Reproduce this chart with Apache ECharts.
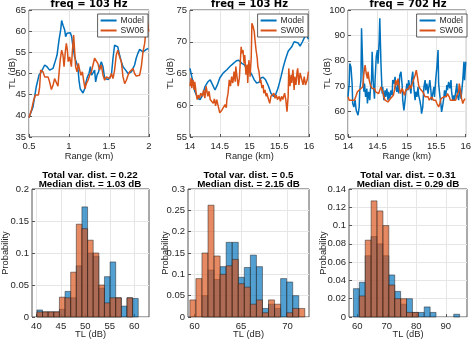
<!DOCTYPE html>
<html><head><meta charset="utf-8">
<script src="https://cdn.jsdelivr.net/npm/echarts@6/dist/echarts.min.js"></script>
<style>html,body{margin:0;padding:0;background:#fff}#c{width:474px;height:340px}</style>
</head><body><div id="c"></div>
<script>
// ---------- DATA ----------
const seriesNames = ['Model', 'SW06'];
const topTitles = ['freq = 103 Hz', 'freq = 103 Hz', 'freq = 702 Hz'];
const bottomTitles1 = ['Total var. dist. = 0.22', 'Total var. dist. = 0.5', 'Total var. dist. = 0.31'];
const bottomTitles2 = ['Median dist. = 1.03 dB', 'Median dist. = 2.15 dB', 'Median dist. = 0.29 dB'];

// Panel 1 (103 Hz, 0.5-2 km)
const p1ModelX = [0.5,0.55,0.59,0.625,0.654,0.675,0.696,0.725,0.758,0.8,0.82,0.85,0.875,0.896,0.908,0.925,0.946,0.958,0.975,0.996,1.017,1.033,1.05,1.07,1.09,1.11,1.125,1.14,1.158,1.175,1.196,1.208,1.23,1.25,1.267,1.283,1.3,1.32,1.333,1.35,1.37,1.383,1.404,1.425,1.446,1.467,1.49,1.51,1.53,1.55,1.57,1.59,1.61,1.633,1.654,1.675,1.708,1.738,1.758,1.78,1.8,1.82,1.84,1.86,1.883,1.904,1.925,1.946,1.967,1.99];
const p1ModelY = [39.6,42.1,46.8,49.6,50.4,50,52,51.6,50.8,51.2,52.4,54.3,57.9,60.3,62.5,61.4,60.3,58.7,59.5,59.1,59.6,58.7,56.3,53.9,52.8,51.6,48.4,46.4,46.2,45.4,46.4,47.6,49.2,50,51.6,49.6,49.2,50.8,48,49.6,50.4,51.6,52.8,51.6,48.8,48.4,48.6,48.8,49.6,53.6,56.7,57.1,56.3,54.3,52.8,51.6,50.8,50,49.6,50.4,51.2,52,53.6,54.7,55.7,55.5,55.1,55.5,55.7,55.9];
const p1SwX = [0.5,0.53,0.558,0.58,0.6,0.617,0.633,0.646,0.658,0.675,0.696,0.717,0.738,0.758,0.78,0.8,0.82,0.842,0.862,0.875,0.89,0.908,0.925,0.938,0.954,0.967,0.98,0.99,1.008,1.03,1.04,1.058,1.07,1.083,1.1,1.117,1.133,1.15,1.167,1.183,1.2,1.217,1.238,1.258,1.28,1.3,1.32,1.342,1.36,1.383,1.404,1.425,1.446,1.467,1.49,1.51,1.53,1.55,1.57,1.59,1.61,1.633,1.654,1.675,1.696,1.717,1.738,1.758,1.78,1.8,1.82,1.84,1.86,1.883,1.904,1.925,1.946,1.967,1.98,1.996];
const p1SwY = [39.6,41.3,43.7,44.9,45.3,44.9,46.8,50.8,51.2,50.4,49.2,48.8,49.2,48,46.2,47.2,48.8,48.4,47,50,53.2,55.5,54.3,51.6,55.1,57.1,55.5,52.8,53.9,51.6,54.7,59.1,55.5,51.6,50.4,52.4,50.8,49.6,50.4,48.4,46.4,47.6,48.4,49.6,50.4,52,53.6,54,52.4,50.8,52,49.6,48.4,49.2,49.6,48.8,50,48.8,50.8,54.3,55.5,53.9,52.8,49.2,47.6,48.4,49.6,50.4,50.8,51.2,50,49.4,49.2,49.6,51.6,55.1,57.1,61.1,62.2,59.9];

// Panel 2 (103 Hz, 14-16 km)
const p2ModelX = [14,14.03,14.06,14.08,14.13,14.17,14.21,14.25,14.3,14.34,14.38,14.42,14.46,14.5,14.56,14.62,14.67,14.73,14.78,14.82,14.87,14.91,14.95,14.99,15.04,15.08,15.12,15.16,15.19,15.23,15.27,15.32,15.36,15.4,15.44,15.48,15.53,15.57,15.61,15.65,15.71,15.75,15.78,15.82,15.85,15.89,15.93,15.96,15.99];
const p2ModelY = [65.8,64.5,63.2,62.2,61.1,60.9,61.6,62.9,63.7,64,63.2,62.4,63.2,64.3,65.1,65.6,66.1,66.6,67,67.1,66.6,66.4,65.8,65.6,64.8,64,63.5,63.6,64.3,64.4,64,63,61.9,61.4,61.7,62.7,64.5,66.1,67.4,68.5,69.2,70,70.3,69.8,69.3,70,70.8,71.2,70.4];
const p2SwX = [14,14.02,14.03,14.05,14.07,14.08,14.1,14.12,14.14,14.16,14.18,14.21,14.23,14.25,14.27,14.3,14.32,14.34,14.36,14.39,14.41,14.43,14.45,14.48,14.5,14.52,14.54,14.57,14.59,14.61,14.62,14.64,14.66,14.68,14.7,14.72,14.74,14.76,14.77,14.79,14.81,14.83,14.86,14.87,14.89,14.91,14.92,14.94,14.96,14.97,14.99,15.01,15.03,15.04,15.06,15.08,15.09,15.11,15.13,15.14,15.16,15.18,15.19,15.21,15.23,15.24,15.26,15.28,15.29,15.32,15.34,15.36,15.38,15.41,15.43,15.45,15.47,15.5,15.52,15.54,15.56,15.59,15.61,15.63,15.65,15.66,15.68,15.7,15.71,15.73,15.75,15.76,15.78,15.8,15.81,15.83,15.85,15.88,15.9,15.92,15.94,15.97,15.99];
const p2SwY = [63,64.3,62.7,64,62.4,63.7,62.2,60.9,61.6,61.1,61.9,61.4,62.4,61.1,63,61.4,62.2,60.9,61.1,60.3,61,59.9,60.9,59.6,58.8,58.5,59.3,59,60.1,59.6,60.9,61.9,64,63,64.5,63.5,65.3,63.7,66.1,64.5,63,64.3,69.2,68.2,68.7,66.6,67.9,64.8,66.4,63.5,67.1,64.5,67.7,72.9,72.4,71.6,70.5,68.7,67.4,66.1,65.3,63.5,64,62.7,63.2,61.9,62.4,61.4,61.9,60.9,60.3,61.4,61.1,61.9,61.1,61.6,60.9,61.4,60.6,61.4,60.9,61.9,60.9,59,61.4,65.8,63,64.8,63.5,65.6,62.4,64.5,63.2,65.3,65.8,63.2,65.1,64,63.2,64.5,63.2,64,65.3];

// Panel 3 (702 Hz, 14-16 km)
const p3ModelX = [14,14.02,14.03,14.05,14.07,14.08,14.1,14.12,14.14,14.15,14.17,14.19,14.2,14.22,14.23,14.25,14.27,14.28,14.3,14.32,14.33,14.35,14.37,14.38,14.4,14.41,14.43,14.45,14.46,14.48,14.5,14.51,14.53,14.54,14.56,14.58,14.59,14.61,14.63,14.64,14.66,14.68,14.69,14.71,14.73,14.75,14.76,14.78,14.8,14.81,14.83,14.85,14.86,14.88,14.9,14.92,14.93,14.95,14.97,14.98,15,15.02,15.03,15.05,15.07,15.08,15.1,15.12,15.14,15.15,15.17,15.19,15.2,15.22,15.24,15.25,15.27,15.29,15.31,15.32,15.34,15.36,15.37,15.39,15.41,15.42,15.44,15.46,15.47,15.49,15.51,15.53,15.54,15.56,15.58,15.59,15.61,15.63,15.64,15.66,15.68,15.69,15.71,15.73,15.75,15.76,15.78,15.8,15.81,15.83,15.85,15.86,15.88,15.9,15.92,15.93,15.95,15.97,15.98,16];
const p3ModelY = [65.8,71,78.9,77.6,71,63.2,61.8,64.5,60.5,61.2,58.6,61.8,68.4,72.4,92.8,77.6,67.8,71,65.8,69.1,63.2,67.8,64.5,68.4,72.4,83.6,71,65.1,72.4,81.6,84.2,78.9,88.2,96.7,78.9,67.1,69.7,64.5,68.4,65.8,69.1,64.5,67.8,65.1,68.4,66.4,72.4,71,73.7,69.7,67.8,71,67.1,74.3,75.7,70.4,64.5,60.5,64.5,67.1,71,68.4,72.4,69.7,67.1,72.4,75.7,69.1,64.5,67.8,65.8,69.7,66.4,64.5,61.8,59.2,61.8,69.7,72.4,68.4,71,67.1,69.1,72.4,67.8,64.5,67.1,69.7,65.8,72.4,77.6,84.2,71,66.4,62.5,59.9,62.5,65.8,68.4,65.8,70.4,68.4,71.7,69.1,72.4,67.8,64.5,66.4,64.5,67.8,71,66.4,64.5,69.1,65.1,64.5,72.4,79.6,72.4,79.6];
const p3SwX = [14,14.02,14.05,14.07,14.09,14.11,14.14,14.16,14.18,14.2,14.23,14.25,14.27,14.29,14.31,14.33,14.34,14.36,14.38,14.41,14.43,14.45,14.47,14.5,14.52,14.54,14.56,14.59,14.61,14.63,14.66,14.68,14.7,14.72,14.75,14.77,14.79,14.81,14.83,14.85,14.87,14.89,14.92,14.94,14.96,14.98,15.01,15.03,15.05,15.07,15.1,15.12,15.14,15.16,15.18,15.2,15.22,15.24,15.27,15.29,15.31,15.33,15.36,15.38,15.4,15.42,15.45,15.47,15.49,15.51,15.54,15.56,15.58,15.6,15.63,15.65,15.67,15.69,15.72,15.74,15.76,15.78,15.81,15.83,15.85,15.88,15.89,15.91,15.93,15.95,15.97,15.99];
const p3SwY = [65.8,64.5,63.8,64.5,65.1,64.5,66.4,67.8,68.4,68.7,68.2,69.7,75,78.3,75,73,75.7,72.4,70.4,69.1,68.4,69.1,67.8,68.4,67.1,68.4,69.7,67.8,65.8,64.5,64.7,63.8,64.5,65.1,64.5,66.4,68.4,72.4,70.4,73,69.7,67.1,69.1,68.4,66.4,68.4,67.8,69.1,70.4,69.1,71.7,71,74.3,76.3,73.7,70.4,69.1,68.4,67.8,67.1,65.8,65.1,65.8,64.5,65.1,65.8,64.5,63.8,64.5,63.2,61.8,63.2,65.1,64.5,65.8,66.4,65.8,67.1,65.8,64.5,63.8,64.5,63.8,64.5,66.4,67.8,71,68.4,65.1,63.2,64.5,65.1];

// Histograms: bin edges (dB) and probabilities
const h4Edges = [40.1,41.25,42.4,43.55,44.7,45.85,47,48.15,49.3,50.45,51.6,52.75,53.9,55.05,56.2,57.35,58.5,59.65,60.8];
const h4Model = [0.011,0.008,0.008,0.008,0.012,0.04,0.03,0.08,0.172,0.1,0.095,0.045,0.063,0.086,0.03,0.017,0.03,0.029];
const h4SW06  = [0.008,0.008,0.008,0.008,0.031,0.03,0.07,0.145,0.138,0.12,0.1,0.05,0.022,0.03,0.03,0,0.03,0];
const h5Edges = [59.5,60.15,60.8,61.45,62.1,62.75,63.4,64.05,64.7,65.35,66,66.65,67.3,67.95,68.6,69.25,69.9,70.55,71.2,71.85];
const h5Model = [0,0,0.05,0.11,0.088,0.118,0.175,0.175,0.093,0.116,0.145,0.118,0.02,0.03,0.02,0.09,0.082,0.05,0];
const h5SW06  = [0.04,0.09,0.15,0.262,0.143,0.1,0.12,0.135,0.078,0.07,0.03,0.04,0.01,0.04,0.03,0,0.01,0.02,0.02];
const h6Edges = [58.7,60.7,62.7,64.7,66.7,68.7,70.7,72.7,74.7,76.7,78.7,80.7,82.7,84.7,86.7,88.7,90.7,92.7,94.7];
const h6Model = [0.031,0.038,0.067,0.088,0.08,0.067,0.046,0.028,0.014,0.02,0.005,0.005,0.011,0.005,0,0,0,0.003];
const h6SW06  = [0,0.023,0.084,0.127,0.116,0.1,0.035,0.02,0.02,0.005,0.005,0,0,0,0,0,0,0];

// Tick labels
const p1XTicks = [0.5,1,1.5,2];
const p23XTicks = [14,14.5,15,15.5,16];
const h4XTicks = [40,45,50,55,60];
const h5XTicks = [60,65,70];
const h6XTicks = [60,70,80,90];

// ---------- STYLE / LAYOUT ----------
const BLUE = '#0072BD', ORANGE = '#D95319';
const FONT = 'Liberation Sans';
const TICKFONT = "'Liberation Sans Narrow', 'Liberation Sans'";
const TITLEFONT = 'DejaVu Sans';
const AX = '#555';
const TXT = '#262626';
const grids = [
  {left:29, top:10, width:120, height:127},
  {left:190, top:10, width:119, height:127},
  {left:348, top:10, width:120, height:127},
  {left:31, top:189, width:118, height:128},
  {left:188, top:189, width:121, height:128},
  {left:349, top:189, width:118, height:128}
].map(g => Object.assign(g, {show:true, borderColor:AX, borderWidth:1, backgroundColor:'#fff'}));

function xAxis(i, min, max, ticks, name, gap) {
  return {type:'value', gridIndex:i, min, max, name, nameLocation:'middle', nameGap:gap, nameMoveOverlap:false,
    nameTextStyle:{fontFamily:FONT, fontSize:9.3, color:TXT},
    axisLine:{show:false},
    axisTick:{show:true, inside:true, length:3, lineStyle:{color:AX}, customValues:ticks},
    axisLabel:{fontFamily:TICKFONT, fontSize:9.5, color:TXT, margin:4, customValues:ticks, showMinLabel:true, showMaxLabel:true},
    splitLine:{show:true, lineStyle:{color:'#e6e6e6', width:1}}};
}
function yAxis(i, min, max, interval, name, gap) {
  return {type:'value', gridIndex:i, min, max, interval, name, nameLocation:'middle', nameGap:gap, nameMoveOverlap:false,
    nameTextStyle:{fontFamily:FONT, fontSize:9.3, color:TXT},
    axisLine:{show:false},
    axisTick:{show:true, inside:true, length:3, lineStyle:{color:AX}},
    axisLabel:{fontFamily:TICKFONT, fontSize:9.5, color:TXT, margin:3},
    splitLine:{show:true, lineStyle:{color:'#e6e6e6', width:1}}};
}
const zip = (xs, ys) => xs.map((x, k) => [x, ys[k]]);
function lineSeries(name, i, xs, ys, color) {
  return {type:'line', name, xAxisIndex:i, yAxisIndex:i, data:zip(xs, ys), showSymbol:false, symbol:'none',
    lineStyle:{width:1.5, color}, itemStyle:{color}, clip:true, z:2};
}
function histSeries(name, i, edges, heights, fill) {
  const data = heights.map((h, k) => [edges[k], edges[k+1], h]);
  return {type:'custom', name, xAxisIndex:i, yAxisIndex:i, data, encode:{x:[0,1], y:2}, z:2,
    renderItem(params, api) {
      const h = api.value(2);
      if (!h) return null;
      const a = api.coord([api.value(0), h]);
      const b = api.coord([api.value(1), 0]);
      return {type:'rect', shape:{x:a[0], y:a[1], width:b[0]-a[0], height:b[1]-a[1]},
        style:{fill, stroke:'rgba(30,30,30,0.7)', lineWidth:0.7}};
    }};
}
const BLUE_F = 'rgba(0,114,189,0.68)', ORANGE_F = 'rgba(217,83,25,0.68)';

const titleCenters = [[89,4],[249.5,4],[408,4]];
const bottomCenters = [90,248.5,408];
const graphics = [];
topTitles.forEach((t, k) => graphics.push({type:'text', x:titleCenters[k][0], y:titleCenters[k][1],
  style:{text:t, fontFamily:TITLEFONT, fontWeight:'bold', fontSize:10, fill:'#000', align:'center', verticalAlign:'middle'}}));
bottomTitles1.forEach((t, k) => graphics.push({type:'text', x:bottomCenters[k], y:175.5,
  style:{text:t, fontFamily:FONT, fontWeight:'bold', fontSize:9.8, fill:'#000', align:'center', verticalAlign:'middle'}}));
bottomTitles2.forEach((t, k) => graphics.push({type:'text', x:bottomCenters[k], y:184.5,
  style:{text:t, fontFamily:FONT, fontWeight:'bold', fontSize:9.8, fill:'#000', align:'center', verticalAlign:'middle'}}));

const legendRights = [326, 166, 7];
const option = {
  animation:false,
  backgroundColor:'#fff',
  grid: grids,
  xAxis: [
    xAxis(0, 0.5, 2, p1XTicks, 'Range (km)', 15),
    xAxis(1, 14, 16, p23XTicks, 'Range (km)', 15),
    xAxis(2, 14, 16, p23XTicks, 'Range (km)', 15),
    xAxis(3, 39.1, 63, h4XTicks, 'TL (dB)', 12.5),
    xAxis(4, 59.3, 72.3, h5XTicks, 'TL (dB)', 12.5),
    xAxis(5, 57.2, 97.2, h6XTicks, 'TL (dB)', 12.5)
  ],
  yAxis: [
    yAxis(0, 35, 65, 5, 'TL (dB)', 12),
    yAxis(1, 55, 75, 5, 'TL (dB)', 15),
    yAxis(2, 50, 100, 10, 'TL (dB)', 16),
    yAxis(3, 0, 0.2, 0.05, 'Probability', 22),
    yAxis(4, 0, 0.3, 0.05, 'Probability', 18),
    yAxis(5, 0, 0.14, 0.02, 'Probability', 21)
  ],
  legend: legendRights.map(r => ({data:seriesNames, right:r, top:14, orient:'vertical', icon:'rect',
    itemWidth:16, itemHeight:2, itemGap:1, padding:[2,4,2,3], borderColor:'#333', borderWidth:0.8,
    backgroundColor:'#fff', selectedMode:false,
    textStyle:{fontFamily:FONT, fontSize:8.6, color:TXT, padding:[0,0,0,-1]}})),
  graphic: graphics,
  series: [
    lineSeries('Model', 0, p1ModelX, p1ModelY, BLUE),
    lineSeries('SW06', 0, p1SwX, p1SwY, ORANGE),
    lineSeries('Model', 1, p2ModelX, p2ModelY, BLUE),
    lineSeries('SW06', 1, p2SwX, p2SwY, ORANGE),
    lineSeries('Model', 2, p3ModelX, p3ModelY, BLUE),
    lineSeries('SW06', 2, p3SwX, p3SwY, ORANGE),
    histSeries('hModel4', 3, h4Edges, h4Model, BLUE_F),
    histSeries('hSW4', 3, h4Edges, h4SW06, ORANGE_F),
    histSeries('hModel5', 4, h5Edges, h5Model, BLUE_F),
    histSeries('hSW5', 4, h5Edges, h5SW06, ORANGE_F),
    histSeries('hModel6', 5, h6Edges, h6Model, BLUE_F),
    histSeries('hSW6', 5, h6Edges, h6SW06, ORANGE_F)
  ]
};
const chart = echarts.init(document.getElementById('c'), null, {renderer:'canvas'});
chart.setOption(option);
</script>
</body></html>
